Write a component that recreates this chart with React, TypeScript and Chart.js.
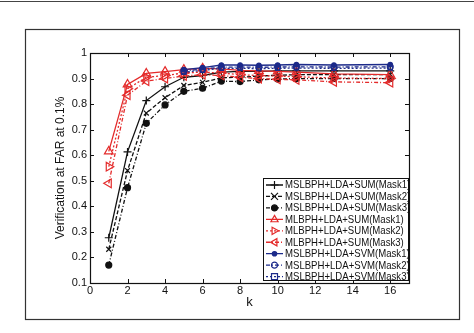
import React, { useEffect, useRef } from "react";
import { Chart, registerables } from "chart.js";
Chart.register(...registerables);

const kValues = [1, 2, 3, 4, 5, 6, 7, 8, 9, 10, 11, 13, 16];
const xTicks = [0, 2, 4, 6, 8, 10, 12, 14, 16];
const yTicks = [0.1, 0.2, 0.3, 0.4, 0.5, 0.6, 0.7, 0.8, 0.9, 1];

const sumMask1 = [0.277, 0.613, 0.814, 0.868, 0.905, 0.912, 0.925, 0.928, 0.928, 0.93, 0.93, 0.93, 0.93];
const sumMask2 = [0.232, 0.54, 0.765, 0.825, 0.873, 0.885, 0.903, 0.905, 0.91, 0.913, 0.915, 0.915, 0.915];
const sumMask3 = [0.17, 0.473, 0.725, 0.797, 0.85, 0.862, 0.89, 0.888, 0.895, 0.898, 0.9, 0.9, 0.9];
const mlbMask1 = [0.615, 0.877, 0.92, 0.927, 0.935, 0.94, 0.938, 0.932, 0.93, 0.928, 0.925, 0.918, 0.915];
const mlbMask2 = [0.555, 0.86, 0.905, 0.912, 0.922, 0.925, 0.922, 0.915, 0.912, 0.91, 0.907, 0.902, 0.9];
const mlbMask3 = [0.49, 0.835, 0.89, 0.9, 0.91, 0.915, 0.912, 0.905, 0.9, 0.897, 0.895, 0.887, 0.884];
const svmMask1 = [null, null, null, null, 0.935, 0.943, 0.953, 0.953, 0.952, 0.953, 0.955, 0.953, 0.955];
const svmMask2 = [null, null, null, null, 0.93, 0.937, 0.945, 0.945, 0.944, 0.945, 0.946, 0.945, 0.946];
const svmMask3 = [null, null, null, null, 0.925, 0.932, 0.94, 0.94, 0.939, 0.94, 0.941, 0.94, 0.941];

const labels = [
  "MSLBPH+LDA+SUM(Mask1)",
  "MSLBPH+LDA+SUM(Mask2)",
  "MSLBPH+LDA+SUM(Mask3)",
  "MLBPH+LDA+SUM(Mask1)",
  "MLBPH+LDA+SUM(Mask2)",
  "MLBPH+LDA+SUM(Mask3)",
  "MSLBPH+LDA+SVM(Mask1)",
  "MSLBPH+LDA+SVM(Mask2)",
  "MSLBPH+LDA+SVM(Mask3)",
];
const seriesValues = [sumMask1, sumMask2, sumMask3, mlbMask1, mlbMask2, mlbMask3, svmMask1, svmMask2, svmMask3];

const BLACK = "#111111";
const RED = "#e42b2b";
const BLUE = "#1c2a8a";
const FONT = "'Liberation Sans', Arial, sans-serif";

type Style = { color: string; dash: number[]; marker: string; rot: number; fill: boolean; r: number };
const styles: Style[] = [
  { color: BLACK, dash: [], marker: "cross", rot: 0, fill: true, r: 4 },
  { color: BLACK, dash: [4, 2], marker: "crossRot", rot: 0, fill: true, r: 3.5 },
  { color: BLACK, dash: [4, 2, 1, 2], marker: "circle", rot: 0, fill: true, r: 3 },
  { color: RED, dash: [], marker: "triangle", rot: 0, fill: false, r: 5 },
  { color: RED, dash: [2, 2], marker: "triangle", rot: 90, fill: false, r: 5 },
  { color: RED, dash: [4, 2, 1, 2], marker: "triangle", rot: -90, fill: false, r: 5 },
  { color: BLUE, dash: [], marker: "circle", rot: 0, fill: true, r: 2.2 },
  { color: BLUE, dash: [4, 2, 1, 2], marker: "circle", rot: 0, fill: false, r: 3 },
  { color: BLUE, dash: [2, 2], marker: "rect", rot: 0, fill: false, r: 3 },
];

function drawMarker(ctx: CanvasRenderingContext2D, s: Style, x: number, y: number) {
  ctx.save();
  ctx.setLineDash([]);
  ctx.strokeStyle = s.color;
  ctx.fillStyle = s.color;
  ctx.lineWidth = 1.2;
  ctx.translate(x, y);
  ctx.rotate((s.rot * Math.PI) / 180);
  const r = s.r;
  ctx.beginPath();
  if (s.marker === "cross") {
    ctx.moveTo(-r, 0); ctx.lineTo(r, 0); ctx.moveTo(0, -r); ctx.lineTo(0, r);
    ctx.stroke();
  } else if (s.marker === "crossRot") {
    ctx.moveTo(-r, -r); ctx.lineTo(r, r); ctx.moveTo(-r, r); ctx.lineTo(r, -r);
    ctx.stroke();
  } else if (s.marker === "circle") {
    ctx.arc(0, 0, r, 0, Math.PI * 2);
    if (s.fill) ctx.fill();
    ctx.stroke();
  } else if (s.marker === "rect") {
    ctx.rect(-r, -r, 2 * r, 2 * r);
    ctx.stroke();
  } else if (s.marker === "triangle") {
    ctx.moveTo(0, -r); ctx.lineTo(r * 0.9, r * 0.6); ctx.lineTo(-r * 0.9, r * 0.6); ctx.closePath();
    ctx.stroke();
  }
  ctx.restore();
}

const framePlugin = {
  id: "frame",
  beforeDraw(chart: any) {
    const ctx = chart.ctx as CanvasRenderingContext2D;
    ctx.save();
    ctx.fillStyle = "#ffffff";
    ctx.fillRect(0, 0, chart.width, chart.height);
    ctx.strokeStyle = "#333333";
    ctx.lineWidth = 1.2;
    ctx.strokeRect(25.5, 29.5, 434, 290);
    ctx.strokeStyle = "#444444";
    ctx.beginPath();
    ctx.moveTo(0, 1.5); ctx.lineTo(474, 1.5);
    ctx.stroke();
    ctx.restore();
  },
  afterDraw(chart: any) {
    const ctx = chart.ctx as CanvasRenderingContext2D;
    const a = chart.chartArea;
    const xs = chart.scales.x;
    const ys = chart.scales.y;
    ctx.save();
    ctx.strokeStyle = BLACK;
    ctx.lineWidth = 1;
    ctx.setLineDash([]);
    ctx.beginPath();
    xTicks.forEach((t) => {
      const px = Math.round(xs.getPixelForValue(t)) + 0.5;
      ctx.moveTo(px, a.bottom); ctx.lineTo(px, a.bottom - 4);
      ctx.moveTo(px, a.top); ctx.lineTo(px, a.top + 4);
    });
    yTicks.forEach((t) => {
      const py = Math.round(ys.getPixelForValue(t)) + 0.5;
      ctx.moveTo(a.left, py); ctx.lineTo(a.left + 4, py);
      ctx.moveTo(a.right, py); ctx.lineTo(a.right - 4, py);
    });
    ctx.stroke();
    ctx.lineWidth = 1.2;
    ctx.strokeRect(Math.round(a.left) + 0.5, Math.round(a.top) + 0.5, Math.round(a.right - a.left), Math.round(a.bottom - a.top));

    // legend
    const lx = 263.5, ly = 178.5, lw = 145, lh = 102;
    ctx.fillStyle = "#ffffff";
    ctx.fillRect(lx, ly, lw, lh);
    ctx.strokeStyle = BLACK;
    ctx.lineWidth = 1;
    ctx.strokeRect(lx, ly, lw, lh);
    ctx.save();
    ctx.beginPath();
    ctx.rect(lx, ly, lw, lh);
    ctx.clip();
    ctx.font = `10.5px ${FONT}`;
    ctx.textBaseline = "middle";
    ctx.textAlign = "left";
    const sx = 122 / ctx.measureText("MSLBPH+LDA+SUM(Mask1").width;
    labels.forEach((lab, i) => {
      const s = styles[i];
      const y = 185 + i * 11.45;
      ctx.strokeStyle = s.color;
      ctx.lineWidth = 1.3;
      ctx.setLineDash(s.dash);
      ctx.beginPath();
      ctx.moveTo(266, y); ctx.lineTo(283, y);
      ctx.stroke();
      drawMarker(ctx, { ...s, r: Math.min(s.r, 4) }, 274.5, y);
      ctx.fillStyle = "#111111";
      ctx.save();
      ctx.translate(285, y + 0.5);
      ctx.scale(sx, 1);
      ctx.fillText(lab, 0, 0);
      ctx.restore();
    });
    ctx.restore();
    ctx.restore();
  },
};

export default function App() {
  const ref = useRef<HTMLCanvasElement>(null);
  useEffect(() => {
    const datasets = seriesValues.map((vals, i) => {
      const s = styles[i];
      return {
        label: labels[i],
        data: kValues.map((k, j) => ({ x: k, y: vals[j] })),
        borderColor: s.color,
        borderWidth: 1.3,
        borderDash: s.dash,
        pointStyle: s.marker,
        pointRadius: s.r,
        pointRotation: s.rot,
        pointBorderColor: s.color,
        pointBackgroundColor: s.fill ? s.color : "rgba(0,0,0,0)",
        pointBorderWidth: 1.2,
        tension: 0,
        fill: false,
        order: 10 - i,
      };
    });
    const chart = new Chart(ref.current as HTMLCanvasElement, {
      type: "line",
      data: { datasets: datasets as any },
      options: {
        responsive: false,
        animation: false,
        devicePixelRatio: 1,
        layout: { padding: { left: 53, top: 53, right: 65, bottom: 23 } },
        plugins: { legend: { display: false }, tooltip: { enabled: false } },
        scales: {
          x: {
            type: "linear",
            min: 0,
            max: 17,
            afterFit: (s: any) => { s.height = 27; },
            afterBuildTicks: (s: any) => { s.ticks = xTicks.map((v) => ({ value: v })); },
            ticks: { font: { family: FONT, size: 11 }, color: "#111", padding: 1, maxRotation: 0, autoSkip: false },
            grid: { display: false, drawTicks: false, tickLength: 0 },
            border: { display: false },
            title: { display: true, text: "k", font: { family: FONT, size: 13 }, color: "#111", padding: 0 },
          },
          y: {
            type: "linear",
            min: 0.1,
            max: 1,
            afterFit: (s: any) => { s.width = 37; },
            afterBuildTicks: (s: any) => { s.ticks = yTicks.map((v) => ({ value: v })); },
            ticks: {
              font: { family: FONT, size: 11 },
              color: "#111",
              padding: 3,
              autoSkip: false,
              callback: (v: any) => (Number(v) === 1 ? "1" : Number(v).toFixed(1)),
            },
            grid: { display: false, drawTicks: false, tickLength: 0 },
            border: { display: false },
            title: { display: true, text: "Verification at FAR at 0.1%", font: { family: FONT, size: 12 }, color: "#111", padding: 0 },
          },
        },
      },
      plugins: [framePlugin],
    });
    return () => chart.destroy();
  }, []);
  return (
    <div style={{ position: "fixed", left: 0, top: 0, width: 474, height: 333, background: "#fff" }}>
      <canvas ref={ref} width={474} height={333} style={{ display: "block", width: 474, height: 333 }} />
    </div>
  );
}
